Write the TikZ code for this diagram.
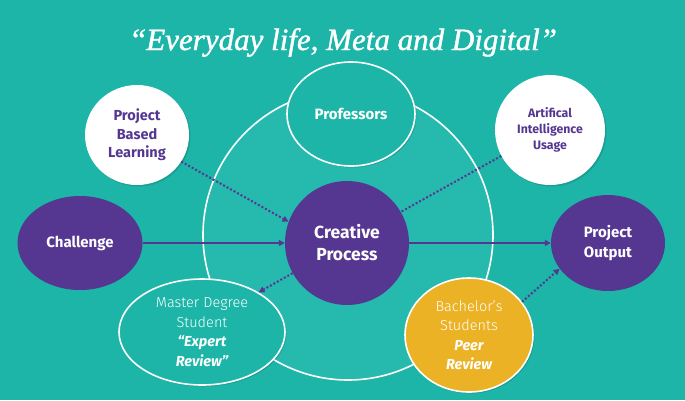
\documentclass[tikz,border=0pt]{standalone}
\usepackage{fontspec}
\setmainfont{Fira Sans}
\newfontfamily\titlefont{Liberation Serif}[ItalicFeatures={FakeBold=1.3}]
\newfontfamily\lightfont{Fira Sans Light}
\usetikzlibrary{shapes.geometric,arrows.meta,shadows}
\definecolor{bg}{HTML}{1CB5A8}
\definecolor{inner}{HTML}{26BAAE}
\definecolor{purp}{HTML}{553792}
\definecolor{gold}{HTML}{EBB225}
\tikzset{
  softshadow/.style={drop shadow={shadow xshift=1.5pt, shadow yshift=-1.5pt, opacity=0.12, fill=black}},
  blob/.style={ellipse, inner sep=0pt, align=center},
  whiteblob/.style={blob, fill=white, text=purp, font=\bfseries, softshadow},
  purpblob/.style={blob, fill=purp, text=white, font=\bfseries},
  ringblob/.style={blob, draw=white, line width=1.6pt, text=white, softshadow},
  solidarrow/.style={draw=purp, line width=1.2pt, -{Triangle[length=6pt,width=6pt]}},
  dotarrow/.style={draw=purp, line width=2pt, dash pattern=on 2pt off 2pt, -{Triangle[length=6pt,width=6pt]}},
  dotline/.style={draw=purp, line width=2pt, dash pattern=on 2pt off 2pt},
}
\begin{document}
\begin{tikzpicture}[x=1pt,y=-1pt]
\fill[bg] (0,0) rectangle (685,400);
\useasboundingbox (0,0) rectangle (685,400);
% title
\node[anchor=base, text=white, font=\titlefont\itshape\fontsize{31}{34}\selectfont] (title) at (343,50) {“Everyday life, Meta and Digital”};
% big circle
\node[circle, draw=white, fill=inner, line width=1.6pt, minimum size=290pt, inner sep=0pt] (big) at (348,235) {};
% satellites
\node[ringblob, fill=bg, minimum width=128pt, minimum height=104pt, font=\bfseries\fontsize{15}{18}\selectfont] (prof) at (351,114) {Professors};
\node[whiteblob, minimum width=104pt, minimum height=100pt, font=\bfseries\fontsize{14.5}{18.5}\selectfont] (pbl) at (137,135) {Project\\Based\\Learning};
\node[whiteblob, minimum width=110pt, minimum height=110pt, font=\bfseries\fontsize{12.3}{16}\selectfont] (ai) at (550,130) {Artifical\\Intelligence\\Usage};
\node[purpblob, minimum width=125pt, minimum height=94pt, font=\bfseries\fontsize{15}{18}\selectfont] (ch) at (80,243) {Challenge};
\node[purpblob, minimum width=114pt, minimum height=96pt, font=\bfseries\fontsize{15}{20}\selectfont] (po) at (608,243) {Project\\Output};
\node[purpblob, circle, minimum size=124pt, font=\bfseries\fontsize{17.5}{22}\selectfont] (cp) at (347,243) {Creative\\Process};
\node[ringblob, fill=bg, minimum width=166pt, minimum height=106pt, font=\fontsize{14.5}{19.5}\selectfont] (md) at (202,332) {{\lightfont Master Degree}\\{\lightfont Student}\\{\bfseries\itshape “Expert}\\{\bfseries\itshape Review”}};
\node[ringblob, fill=gold, minimum width=128pt, minimum height=114pt, font=\fontsize{14.5}{19.5}\selectfont] (bs) at (469,335) {{\lightfont Bachelor’s}\\{\lightfont Students}\\{\bfseries\itshape Peer}\\{\bfseries\itshape Review}};
% connectors
\draw[solidarrow] (ch.east) -- (cp.west);
\draw[solidarrow] (cp.east) -- (po.west);
\draw[dotarrow] (pbl.-31) -- (cp.160);
\draw[dotline] (ai.208) -- (cp.30);
\draw[dotarrow] (cp.209) -- (md.35);
\draw[dotarrow] (bs.32) -- (po.208);
\end{tikzpicture}
\end{document}
